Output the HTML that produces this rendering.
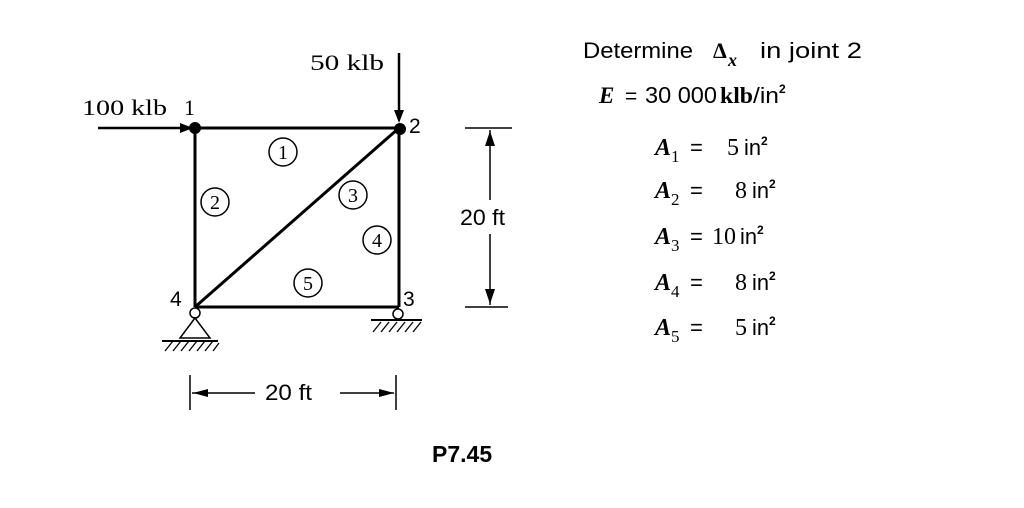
<!DOCTYPE html>
<html><head><style>
body{margin:0;background:#fff;width:1024px;height:503px;overflow:hidden}
svg text{fill:#000}
.s{font-family:"Liberation Serif",serif}
.a{font-family:"Liberation Sans",sans-serif}
</style></head><body>
<svg width="1024" height="503" viewBox="0 0 1024 503" xmlns="http://www.w3.org/2000/svg">
<g stroke="#000" fill="none">
<line x1="195" y1="128" x2="399" y2="128" stroke-width="3"/>
<line x1="195" y1="128" x2="195" y2="307" stroke-width="3"/>
<line x1="399" y1="128" x2="399" y2="307" stroke-width="3"/>
<line x1="195" y1="307" x2="399" y2="307" stroke-width="3"/>
<line x1="195" y1="307" x2="399" y2="128" stroke-width="3"/>
<line x1="98" y1="128" x2="180" y2="128" stroke-width="2.5"/>
<line x1="399" y1="53" x2="399" y2="112" stroke-width="2.5"/>
<circle cx="283" cy="152" r="14" stroke-width="1.5"/>
<circle cx="215" cy="202" r="14" stroke-width="1.5"/>
<circle cx="353" cy="195" r="14" stroke-width="1.5"/>
<circle cx="377" cy="240" r="14" stroke-width="1.5"/>
<circle cx="308" cy="283" r="14" stroke-width="1.5"/>
<circle cx="195" cy="313" r="5" stroke-width="1.5" fill="#fff"/>
<path d="M195 318 L180 338 L210 338 Z" stroke-width="1.5"/>
<line x1="162" y1="341" x2="218" y2="341" stroke-width="2"/>
<path d="M165 351 l8 -10 M173 351 l8 -10 M181 351 l8 -10 M189 351 l8 -10 M197 351 l8 -10 M205 351 l8 -10 M213 351 l6 -8" stroke-width="1.3"/>
<circle cx="398" cy="314" r="5" stroke-width="1.5" fill="#fff"/>
<line x1="371" y1="320" x2="422" y2="320" stroke-width="2"/>
<path d="M373 332 l8 -10 M381 332 l8 -10 M389 332 l8 -10 M397 332 l8 -10 M405 332 l8 -10 M413 332 l8 -10" stroke-width="1.3"/>
<line x1="465" y1="128" x2="512" y2="128" stroke-width="1.5"/>
<line x1="465" y1="307" x2="508" y2="307" stroke-width="1.5"/>
<line x1="490" y1="130" x2="490" y2="200" stroke-width="1.5"/>
<line x1="490" y1="234" x2="490" y2="305" stroke-width="1.5"/>
<line x1="190" y1="375" x2="190" y2="410" stroke-width="1.5"/>
<line x1="396" y1="375" x2="396" y2="410" stroke-width="1.5"/>
<line x1="192" y1="393" x2="255" y2="393" stroke-width="1.5"/>
<line x1="340" y1="393" x2="394" y2="393" stroke-width="1.5"/>
</g>
<g fill="#000">
<circle cx="195" cy="128" r="6"/>
<circle cx="400" cy="129" r="6"/>
<path d="M180 123 L193 128 L180 133 Z"/>
<path d="M394 110 L399 123 L404 110 Z"/>
<path d="M490 131 L485 146 L495 146 Z"/>
<path d="M490 304 L485 289 L495 289 Z"/>
<path d="M193 393 L208 389 L208 397 Z"/>
<path d="M394 393 L379 389 L379 397 Z"/>
</g>
<g class="s" font-size="22">
<text x="82" y="115" textLength="85" lengthAdjust="spacingAndGlyphs">100 klb</text>
<text x="184" y="115">1</text>
<text x="310" y="70" textLength="74" lengthAdjust="spacingAndGlyphs">50 klb</text>
</g>
<g class="a" font-size="21">
<text x="409" y="133">2</text>
<text x="170" y="306">4</text>
<text x="403" y="306">3</text>
</g>
<g class="s" font-size="20" text-anchor="middle">
<text x="283" y="159">1</text>
<text x="215" y="209">2</text>
<text x="353" y="202">3</text>
<text x="377" y="247">4</text>
<text x="308" y="290">5</text>
</g>
<text x="460" y="225" class="a" font-size="22" textLength="45" lengthAdjust="spacingAndGlyphs">20 ft</text>
<text x="265" y="400" class="a" font-size="22" textLength="47" lengthAdjust="spacingAndGlyphs">20 ft</text>
<text x="432" y="462" class="a" font-size="23" font-weight="bold">P7.45</text>
<text x="583" y="58" class="a" font-size="22" textLength="110" lengthAdjust="spacingAndGlyphs">Determine</text>
<text x="713" y="58" class="s" font-weight="bold" font-size="22">Δ</text>
<text x="728" y="66" class="s" font-style="italic" font-weight="bold" font-size="18">x</text>
<text x="760" y="58" class="a" font-size="22" textLength="102" lengthAdjust="spacingAndGlyphs">in joint 2</text>
<text x="599" y="103" class="s" font-style="italic" font-weight="bold" font-size="23">E</text>
<text x="625" y="103" class="a" font-size="21">=</text>
<text x="645" y="103" class="a" font-size="23" textLength="72" lengthAdjust="spacingAndGlyphs">30 000</text>
<text x="720" y="103" class="s" font-weight="bold" font-size="23" textLength="33" lengthAdjust="spacingAndGlyphs">klb</text>
<text x="753" y="103" class="a" font-size="22" textLength="26" lengthAdjust="spacingAndGlyphs">/in</text>
<text x="779" y="93" class="a" font-size="12" font-weight="bold">2</text>
<g font-size="24">
<text x="655" y="155" class="s" font-style="italic" font-weight="bold">A</text><text x="671" y="162" class="s" font-size="17">1</text><text x="690" y="155" class="a" font-size="22">=</text><text x="727" y="155" class="s" textLength="12" lengthAdjust="spacingAndGlyphs">5</text><text x="744" y="155" class="a" font-size="22" textLength="17" lengthAdjust="spacingAndGlyphs">in</text><text x="761" y="145" class="a" font-size="12" font-weight="bold">2</text>
<text x="655" y="198" class="s" font-style="italic" font-weight="bold">A</text><text x="671" y="205" class="s" font-size="17">2</text><text x="690" y="198" class="a" font-size="22">=</text><text x="735" y="198" class="s" textLength="12" lengthAdjust="spacingAndGlyphs">8</text><text x="752" y="198" class="a" font-size="22" textLength="17" lengthAdjust="spacingAndGlyphs">in</text><text x="769" y="188" class="a" font-size="12" font-weight="bold">2</text>
<text x="655" y="244" class="s" font-style="italic" font-weight="bold">A</text><text x="671" y="251" class="s" font-size="17">3</text><text x="690" y="244" class="a" font-size="22">=</text><text x="712" y="244" class="s" textLength="24" lengthAdjust="spacingAndGlyphs">10</text><text x="740" y="244" class="a" font-size="22" textLength="17" lengthAdjust="spacingAndGlyphs">in</text><text x="757" y="234" class="a" font-size="12" font-weight="bold">2</text>
<text x="655" y="290" class="s" font-style="italic" font-weight="bold">A</text><text x="671" y="297" class="s" font-size="17">4</text><text x="690" y="290" class="a" font-size="22">=</text><text x="735" y="290" class="s" textLength="12" lengthAdjust="spacingAndGlyphs">8</text><text x="752" y="290" class="a" font-size="22" textLength="17" lengthAdjust="spacingAndGlyphs">in</text><text x="769" y="280" class="a" font-size="12" font-weight="bold">2</text>
<text x="655" y="335" class="s" font-style="italic" font-weight="bold">A</text><text x="671" y="342" class="s" font-size="17">5</text><text x="690" y="335" class="a" font-size="22">=</text><text x="735" y="335" class="s" textLength="12" lengthAdjust="spacingAndGlyphs">5</text><text x="752" y="335" class="a" font-size="22" textLength="17" lengthAdjust="spacingAndGlyphs">in</text><text x="769" y="325" class="a" font-size="12" font-weight="bold">2</text>
</g>
</svg>
</body></html>
